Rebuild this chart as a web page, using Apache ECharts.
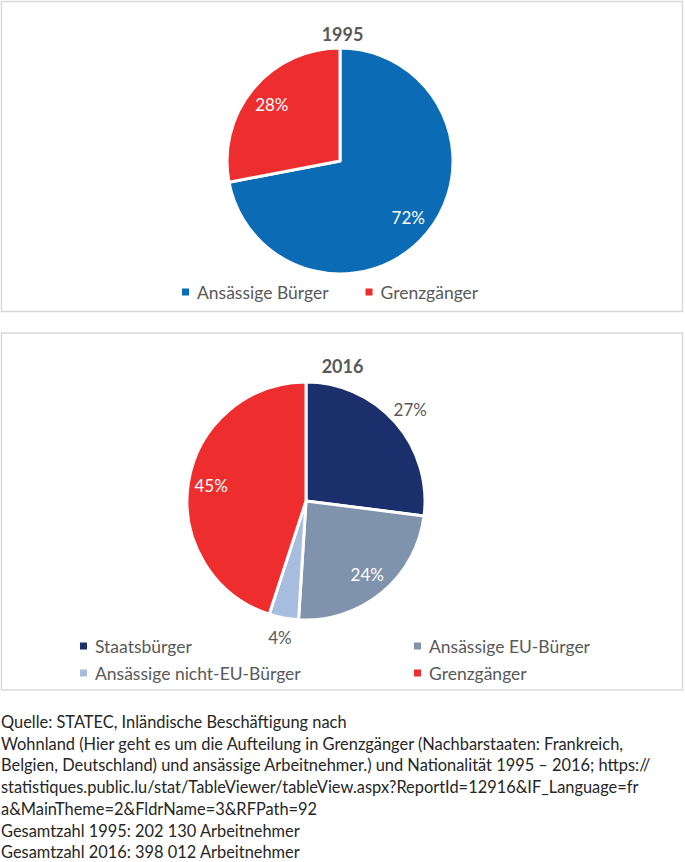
<!DOCTYPE html>
<html>
<head>
<meta charset="utf-8">
<script src="https://cdn.jsdelivr.net/npm/echarts@6/dist/echarts.min.js"></script>
<style>
  html, body { margin: 0; padding: 0; background: #fff; }
  #wrap { position: relative; width: 685px; height: 862px; overflow: hidden; }
  #chart { position: absolute; left: 0; top: 0; width: 685px; height: 700px; }
  #note { position: absolute; left: 1px; top: 711px; font-family: Lato, sans-serif; font-size: 16.4px;
          line-height: 21.7px; color: #262626; white-space: nowrap; }
</style>
</head>
<body>
<div id="wrap">
  <div id="chart"></div>
  <div id="note"></div>
</div>
<script>
// ---- Data ----
const title1995 = '1995';
const names1995 = ['Ansässige Bürger', 'Grenzgänger'];
const values1995 = [72, 28];
const colors1995 = ['#0b6bb5', '#ee2d2e'];

const title2016 = '2016';
const names2016 = ['Staatsbürger', 'Ansässige EU-Bürger', 'Ansässige nicht-EU-Bürger', 'Grenzgänger'];
const values2016 = [27, 24, 4, 45];
const colors2016 = ['#1a2f6b', '#7f93ad', '#a6bde0', '#ee2d2e'];
// which 2016 labels sit on the rim (outside) instead of inside
const outside2016 = [true, false, true, false];

const noteLines = [
  'Quelle: STATEC, Inländische Beschäftigung nach',
  'Wohnland (Hier geht es um die Aufteilung in Grenzgänger (Nachbarstaaten: Frankreich,',
  'Belgien, Deutschland) und ansässige Arbeitnehmer.) und Nationalität 1995 – 2016; https://',
  'statistiques.public.lu/stat/TableViewer/tableView.aspx?ReportId=12916&IF_Language=fr',
  'a&MainTheme=2&FldrName=3&RFPath=92',
  'Gesamtzahl 1995: 202 130 Arbeitnehmer',
  'Gesamtzahl 2016: 398 012 Arbeitnehmer'
];

// ---- Footnote ----
const noteEl = document.getElementById('note');
noteLines.forEach(function (t) {
  const d = document.createElement('div');
  d.textContent = t;
  noteEl.appendChild(d);
});

// ---- Chart ----
const FONT = 'Lato, sans-serif';
const GRAY = '#595959';
const chart = echarts.init(document.getElementById('chart'), null, { renderer: 'svg' });

function visibleData(names, values, colors) {
  return names.map(function (n, i) {
    return { name: n, value: values[i], itemStyle: { color: colors[i] } };
  });
}
function labelData(names, values, showFn, color) {
  return names.map(function (n, i) {
    return { name: n, value: values[i], label: { show: showFn(i), color: color } };
  });
}
const pctFmt = function (p) { return Math.round(p.percent) + '%'; };

function overlay(center, radius, data) {
  return {
    type: 'pie', center: center, radius: radius, silent: true, z: 5,
    startAngle: 90, clockwise: true, avoidLabelOverlap: false,
    itemStyle: { color: 'rgba(0,0,0,0)', borderWidth: 0 },
    emphasis: { disabled: true },
    label: { position: 'inside', formatter: pctFmt, fontFamily: FONT, fontSize: 17 },
    labelLine: { show: false },
    data: data
  };
}

const legendText = { fontFamily: FONT, fontSize: 17.5, color: GRAY, padding: [0, 0, 0, 2] };
function legend(names, extra) {
  return Object.assign({
    data: names, icon: 'rect', itemWidth: 9, itemHeight: 9, padding: 0,
    selectedMode: false, textStyle: legendText
  }, extra);
}

const c95 = [340, 161], r95 = 113;
const c16 = [306, 501], r16 = 119;

chart.setOption({
  backgroundColor: '#fff',
  animation: false,
  graphic: [
    { type: 'rect', shape: { x: 1.5, y: 1.5, width: 681, height: 310 },
      style: { fill: 'none', stroke: '#d9d9d9', lineWidth: 1.5 }, z: 0 },
    { type: 'rect', shape: { x: 1.5, y: 333, width: 681, height: 357 },
      style: { fill: 'none', stroke: '#d9d9d9', lineWidth: 1.5 }, z: 0 }
  ],
  title: [
    { text: title1995, left: 'center', top: 20,
      textStyle: { fontFamily: FONT, fontWeight: 'bold', fontSize: 18, color: GRAY } },
    { text: title2016, left: 'center', top: 352,
      textStyle: { fontFamily: FONT, fontWeight: 'bold', fontSize: 18, color: GRAY } }
  ],
  legend: [
    legend(names1995, { left: 180, top: 283, itemGap: 35 }),
    legend([names2016[0], names2016[2]], { orient: 'vertical', left: 78, top: 637, itemGap: 9 }),
    legend([names2016[1], names2016[3]], { orient: 'vertical', left: 412, top: 637, itemGap: 9 })
  ],
  series: [
    {
      type: 'pie', center: c95, radius: r95, startAngle: 90, clockwise: true,
      itemStyle: { borderColor: '#fff', borderWidth: 3 },
      label: { show: false }, labelLine: { show: false }, emphasis: { disabled: true },
      data: visibleData(names1995, values1995, colors1995)
    },
    {
      type: 'pie', center: c16, radius: r16, startAngle: 90, clockwise: true,
      itemStyle: { borderColor: '#fff', borderWidth: 3 },
      label: { show: false }, labelLine: { show: false }, emphasis: { disabled: true },
      data: visibleData(names2016, values2016, colors2016)
    },
    overlay(c95, [58, r95], labelData(names1995, values1995, function () { return true; }, '#fff')),
    overlay(c16, [67, r16], labelData(names2016, values2016, function (i) { return !outside2016[i]; }, '#fff')),
    overlay(c16, [r16, 153], labelData(names2016, values2016, function (i) { return outside2016[i]; }, GRAY))
  ]
});
</script>
</body>
</html>
